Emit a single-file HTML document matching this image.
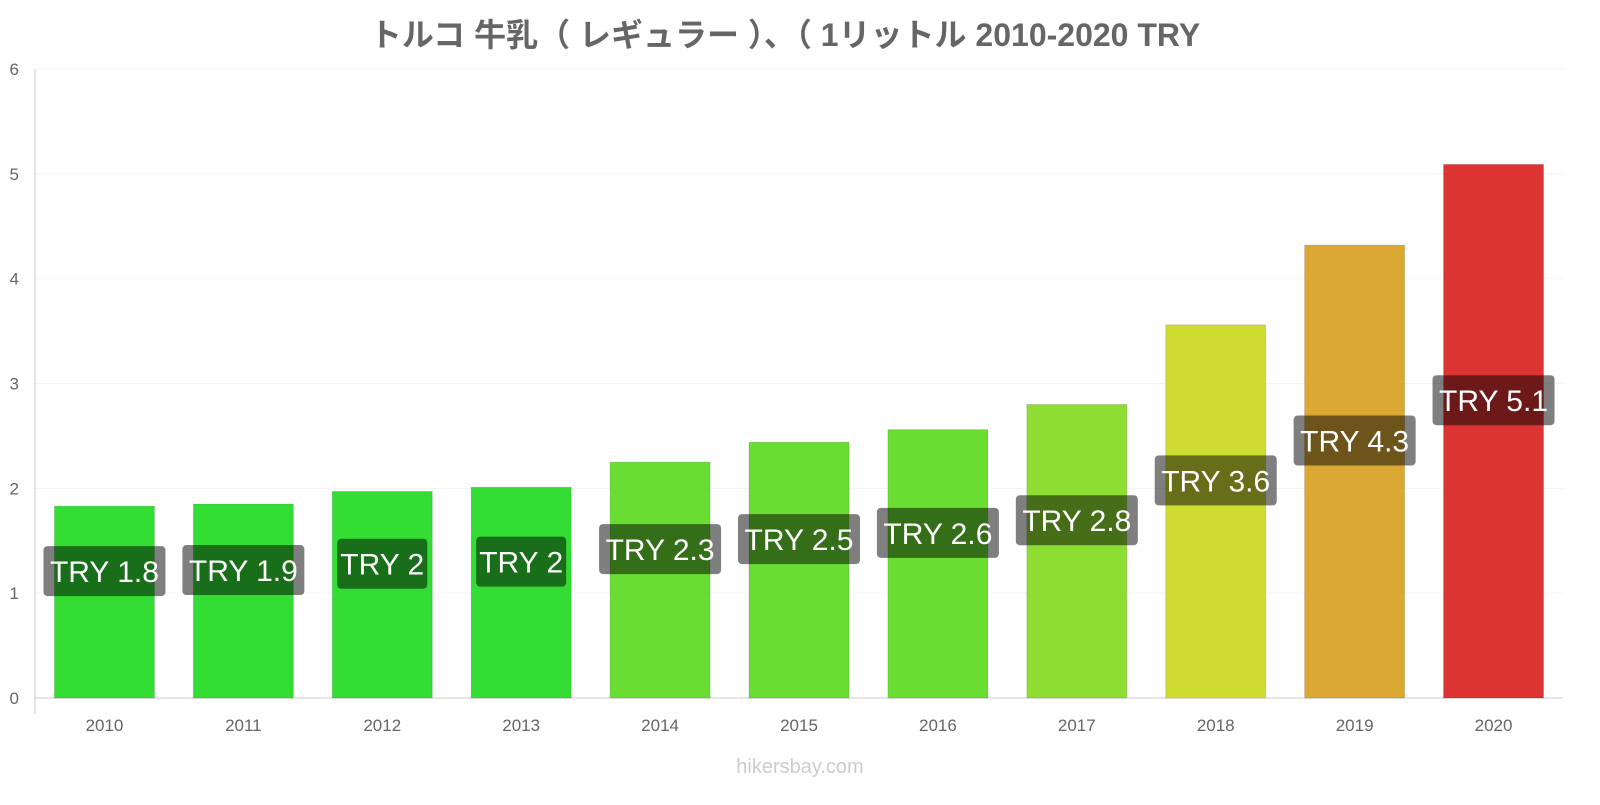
<!DOCTYPE html>
<html><head><meta charset="utf-8"><style>
body{margin:0;background:#fff;width:1600px;height:800px;overflow:hidden;font-family:"Liberation Sans","Noto Sans CJK JP",sans-serif}
</style></head><body>
<svg id="c" width="1600" height="800" xmlns="http://www.w3.org/2000/svg">
<text x="785" y="46" text-anchor="middle" font-size="32" font-weight="bold" fill="#666" xml:space="preserve">トルコ 牛乳（ レギュラー ）、（ 1リットル 2010-2020 TRY</text>
<text x="800" y="773" text-anchor="middle" font-size="20" fill="#ccc">hikersbay.com</text>
<g id="grid"></g><g id="bars"></g><g id="labels"></g>
</svg>
<script>
const categories=["2010","2011","2012","2013","2014","2015","2016","2017","2018","2019","2020"];
const values=[1.83,1.85,1.97,2.01,2.25,2.44,2.56,2.80,3.56,4.32,5.09];
const labelTexts=["TRY 1.8","TRY 1.9","TRY 2","TRY 2","TRY 2.3","TRY 2.5","TRY 2.6","TRY 2.8","TRY 3.6","TRY 4.3","TRY 5.1"];
const colors=["#33dd33","#33dd33","#33dd33","#33dd33","#6add33","#6add33","#6add33","#8ddd33","#cfdd33","#dba834","#dc3333"];
const yTicks=[0,1,2,3,4,5,6];
const NS="http://www.w3.org/2000/svg";
const x0=35,x1=1563,yZero=698,yTop=69,yMax=6;
const y=v=>yZero-(v/yMax)*(yZero-yTop);
const step=(x1-x0)/categories.length;
const xc=i=>x0+step*(i+0.5);
function mk(t,a,p){const e=document.createElementNS(NS,t);for(const k in a)e.setAttribute(k,a[k]);p.appendChild(e);return e;}
const g=document.getElementById('grid'),b=document.getElementById('bars'),l=document.getElementById('labels');
yTicks.forEach(t=>{
 const ln=mk('line',{x1:x0,x2:x1,y1:y(t),y2:y(t),stroke:t===0?'#ccc':'#f3f3f3','stroke-width':1},g);
 
 
 const tx=mk('text',{x:19,y:y(t)+6,'text-anchor':'end','font-size':17,fill:'#666'},g);
 tx.textContent=t;
 
 
});
const ax=mk('line',{x1:x0,x2:x0,y1:yTop,y2:yZero+16,stroke:'#ccc'},g);


categories.forEach((c,i)=>{
 const cx=xc(i),top=y(values[i]);
 const r=mk('rect',{x:cx-50,y:top,width:100,height:yZero-top,fill:colors[i],stroke:'rgba(0,0,0,0.12)'},b);
 
 
 const tk=mk('text',{x:cx,y:yZero+33,'text-anchor':'middle','font-size':17,fill:'#666'},g);
 tk.textContent=c;
 
 
 const ly=(top+yZero)/2-31;
 const w=labelTexts[i].length*16+10;
 const bg=mk('rect',{x:cx-w/2,y:ly-25,width:w,height:50,rx:4,fill:'rgba(0,0,0,0.5)'},l);
 
 
 const t=mk('text',{x:cx,y:ly+11,'text-anchor':'middle','font-size':30,fill:'#fff'},l);
 t.textContent=labelTexts[i];
 
 
});
</script>
</body></html>
